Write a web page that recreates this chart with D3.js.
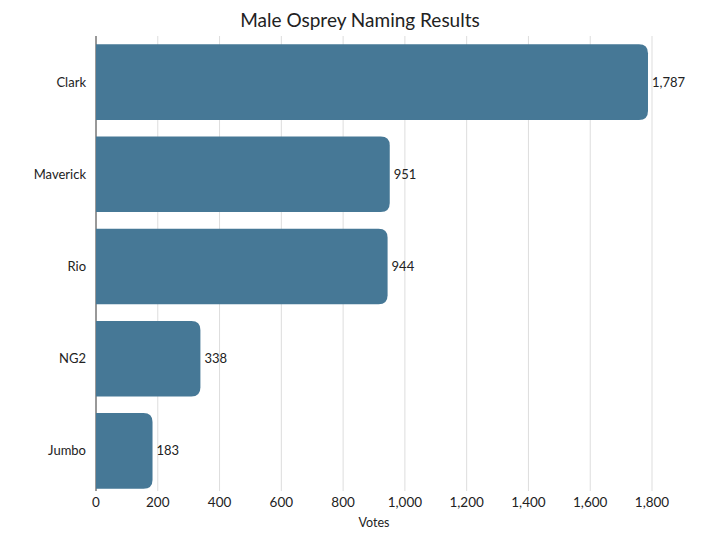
<!DOCTYPE html>
<html><head><meta charset="utf-8">
<script src="https://cdn.jsdelivr.net/npm/d3@7"></script>
<style>body{margin:0;background:#fff}text{font-family:Lato,"Open Sans",sans-serif}</style>
</head><body><svg id="c" width="720" height="540"></svg>
<script>
const categories = ["Clark","Maverick","Rio","NG2","Jumbo"];
const votes = [1787,951,944,338,183];
const ticks = [0,200,400,600,800,1000,1200,1400,1600,1800];

const svg = d3.select("#c");
const x = d3.scaleLinear().domain([0,1800]).range([96,652]);
const y = d3.scaleBand().domain(categories).range([36,497]).paddingInner(0.18).paddingOuter(0.09);
const fmt = d3.format(",");

svg.append("text").attr("x",360).attr("y",27).attr("text-anchor","middle")
  .attr("font-size",19).attr("fill","#222").text("Male Osprey Naming Results");

svg.append("g").selectAll("line").data(ticks).join("line")
  .attr("x1",d=>x(d)).attr("x2",d=>x(d)).attr("y1",36).attr("y2",491)
  .attr("stroke",d=>d===0?"#333":"#ddd").attr("stroke-width",1);

function barPath(x0,x1,y0,h,r){
  r=Math.min(r,(x1-x0));
  return `M${x0},${y0}H${x1-r}Q${x1},${y0} ${x1},${y0+r}V${y0+h-r}Q${x1},${y0+h} ${x1-r},${y0+h}H${x0}Z`;
}
const data = categories.map((c,i)=>({c,v:votes[i]}));
svg.append("g").selectAll("path").data(data).join("path")
  .attr("d",d=>barPath(x(0),x(d.v),y(d.c),y.bandwidth(),9))
  .attr("fill","#467896");

svg.append("g").selectAll("text").data(data).join("text")
  .attr("x",d=>x(d.v)+4).attr("y",d=>y(d.c)+y.bandwidth()/2).attr("dy","0.35em")
  .attr("font-size",13).attr("fill","#222").text(d=>fmt(d.v));

svg.append("g").selectAll("text").data(categories).join("text")
  .attr("x",86).attr("y",d=>y(d)+y.bandwidth()/2).attr("dy","0.35em").attr("text-anchor","end")
  .attr("font-size",13).attr("fill","#222").text(d=>d);

svg.append("g").selectAll("text").data(ticks).join("text")
  .attr("x",d=>x(d)).attr("y",507).attr("text-anchor","middle")
  .attr("font-size",13.5).attr("fill","#222").text(d=>fmt(d));

svg.append("text").attr("x",374).attr("y",527).attr("text-anchor","middle")
  .attr("font-size",12.5).attr("fill","#222").text("Votes");
</script></body></html>
